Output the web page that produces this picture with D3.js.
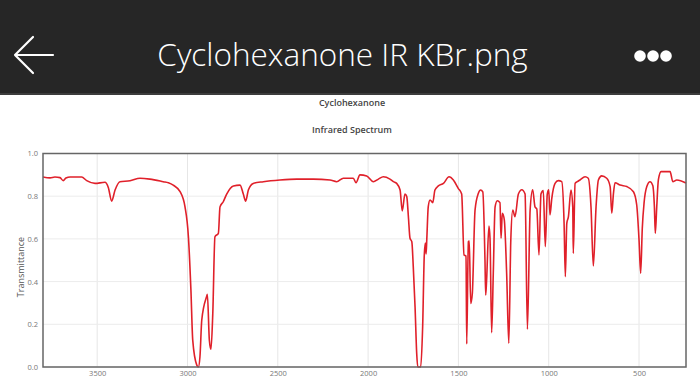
<!DOCTYPE html>
<html><head><meta charset="utf-8">
<script src="https://cdn.jsdelivr.net/npm/d3@7"></script>
<style>
html,body{margin:0;padding:0;background:#fff;overflow:hidden}
svg{display:block}
</style></head>
<body>
<svg id="c" width="700" height="377"></svg>
<script>
// ---- data (wavenumber cm^-1, transmittance) ----
const wavenumbers = [3800,3761,3734,3706,3688,3673,3650,3586,3558,3512,3457,3438,3420,3401,3374,3318,3263,3208,3134,3106,3079,3041,3014,2995,2981,2971,2949,2940,2931,2921,2894,2890,2879,2870,2860,2848,2829,2820,2802,2783,2746,2709,2691,2678,2663,2636,2580,2488,2395,2303,2211,2174,2137,2082,2067,2045,2008,1971,1943,1916,1879,1860,1842,1823,1811,1796,1786,1777,1768,1758,1750,1740,1731,1725,1709,1698,1689,1683,1679,1675,1667,1657,1642,1630,1611,1583,1552,1528,1501,1482,1469,1458,1454,1445,1440,1432,1423,1408,1390,1377,1365,1353,1349,1344,1331,1325,1316,1307,1297,1285,1270,1264,1257,1246,1233,1221,1210,1199,1187,1168,1149,1131,1118,1103,1089,1076,1066,1054,1043,1030,1019,1008,1000,993,983,965,947,928,915,908,900,891,877,867,864,854,842,827,799,781,766,753,738,725,707,679,660,651,642,633,605,568,531,513,500,491,482,472,457,439,424,415,410,402,393,378,328,313,291,240];
const transmittance = [0.89,0.886,0.89,0.887,0.873,0.885,0.89,0.89,0.873,0.86,0.865,0.84,0.777,0.829,0.868,0.872,0.884,0.88,0.868,0.863,0.852,0.821,0.751,0.61,0.36,0.126,0.01,0.0,0.048,0.22,0.33,0.34,0.126,0.083,0.25,0.61,0.626,0.75,0.774,0.81,0.848,0.852,0.81,0.777,0.829,0.86,0.868,0.876,0.88,0.88,0.876,0.868,0.884,0.884,0.863,0.9,0.895,0.868,0.88,0.891,0.88,0.868,0.86,0.829,0.731,0.81,0.798,0.704,0.603,0.587,0.47,0.28,0.064,0.0,0.0,0.19,0.525,0.58,0.53,0.6,0.751,0.782,0.77,0.829,0.848,0.86,0.891,0.876,0.837,0.81,0.525,0.52,0.108,0.587,0.59,0.298,0.345,0.735,0.813,0.829,0.82,0.501,0.337,0.407,0.66,0.6,0.161,0.439,0.75,0.779,0.77,0.603,0.72,0.689,0.439,0.111,0.595,0.735,0.704,0.81,0.83,0.81,0.177,0.735,0.83,0.75,0.74,0.525,0.81,0.826,0.564,0.81,0.83,0.712,0.79,0.86,0.873,0.868,0.673,0.423,0.673,0.704,0.829,0.75,0.532,0.86,0.868,0.876,0.891,0.884,0.75,0.473,0.75,0.876,0.895,0.884,0.845,0.72,0.81,0.863,0.852,0.845,0.821,0.76,0.595,0.439,0.65,0.77,0.845,0.868,0.85,0.75,0.626,0.75,0.876,0.915,0.915,0.868,0.876,0.862];
const xTicks = [3500,3000,2500,2000,1500,1000,500];
const yTicks = [0,0.2,0.4,0.6,0.8,1.0];
const headerTitle = "Cyclohexanone IR KBr.png";
const chartTitle = "Cyclohexanone";
const chartSubtitle = "Infrared Spectrum";
const yLabel = "Transmittance";

const svg = d3.select("#c");
const W = 700, H = 377;

// ---- app header bar ----
svg.append("rect").attr("x",0).attr("y",0).attr("width",W).attr("height",95).attr("fill","#262626");
svg.append("rect").attr("x",0).attr("y",93).attr("width",W).attr("height",2).attr("fill","#3c3c3c");
svg.append("text").attr("x",342.5).attr("y",66).attr("text-anchor","middle")
  .attr("font-family","'Open Sans', sans-serif").attr("font-size",31.5).attr("font-weight",300).attr("fill","#fff")
  .text(headerTitle);
const arrow = svg.append("g").attr("stroke","#fff").attr("stroke-width",2.2).attr("fill","none").attr("stroke-linecap","round");
arrow.append("path").attr("d","M15,55 L53,55 M15,55 L33,37 M15,55 L33,73");
[640,653,666].forEach(cx=>svg.append("circle").attr("cx",cx).attr("cy",56).attr("r",5.8).attr("fill","#fff"));

// ---- chart ----
const m = {l:43, r:686, t:153.5, b:367};
const x = d3.scaleLinear().domain([3800,240]).range([m.l,m.r]);
const y = d3.scaleLinear().domain([0,1]).range([m.b,m.t]);

svg.append("text").attr("x",352).attr("y",106).attr("text-anchor","middle")
  .attr("font-family","'Open Sans', sans-serif").attr("font-size",9).attr("font-weight",600).attr("fill","#444")
  .text(chartTitle);
svg.append("text").attr("x",352).attr("y",133).attr("text-anchor","middle")
  .attr("font-family","'Open Sans', sans-serif").attr("font-size",9).attr("font-weight",600).attr("fill","#444")
  .text(chartSubtitle);

// grid
const grid = svg.append("g");
grid.selectAll(".gx").data(xTicks).enter().append("line")
  .attr("x1",d=>x(d)).attr("x2",d=>x(d)).attr("y1",m.t).attr("y2",m.b)
  .attr("stroke","#e6e6e6").attr("stroke-width",1);
grid.selectAll(".gy").data(yTicks).enter().append("line")
  .attr("x1",m.l).attr("x2",m.r).attr("y1",d=>y(d)).attr("y2",d=>y(d))
  .attr("stroke","#ececec").attr("stroke-width",1);

// axes (labels)
const yAxis = svg.append("g").attr("transform",`translate(${m.l},0)`)
  .call(d3.axisLeft(y).tickValues(yTicks).tickFormat(d3.format(".1f")).tickSize(0).tickPadding(5));
yAxis.select(".domain").remove();
yAxis.selectAll("text").attr("font-family","'Open Sans', sans-serif").attr("font-size",7.5).attr("fill","#777");

const xAxis = svg.append("g").attr("transform",`translate(0,${m.b})`)
  .call(d3.axisBottom(x).tickValues(xTicks).tickFormat(d3.format("d")).tickSize(0).tickPadding(4));
xAxis.select(".domain").remove();
xAxis.selectAll("text").attr("font-family","'Open Sans', sans-serif").attr("font-size",7.5).attr("fill","#777");

svg.append("text").attr("transform",`translate(24,267) rotate(-90)`).attr("text-anchor","middle")
  .attr("font-family","'Open Sans', sans-serif").attr("font-size",9).attr("fill","#555")
  .text(yLabel);

// spectrum line
const pts = wavenumbers.map((w,i)=>[w,transmittance[i]]);
svg.append("path").datum(pts)
  .attr("fill","none").attr("stroke","#e0202a").attr("stroke-width",1.6).attr("stroke-linejoin","round")
  .attr("d", d3.line().curve(d3.curveMonotoneX).x(d=>x(d[0])).y(d=>y(d[1])));

// frame
svg.append("rect").attr("x",m.l).attr("y",m.t).attr("width",m.r-m.l).attr("height",m.b-m.t)
  .attr("fill","none").attr("stroke","#666").attr("stroke-width",1.5);
</script>
</body></html>
